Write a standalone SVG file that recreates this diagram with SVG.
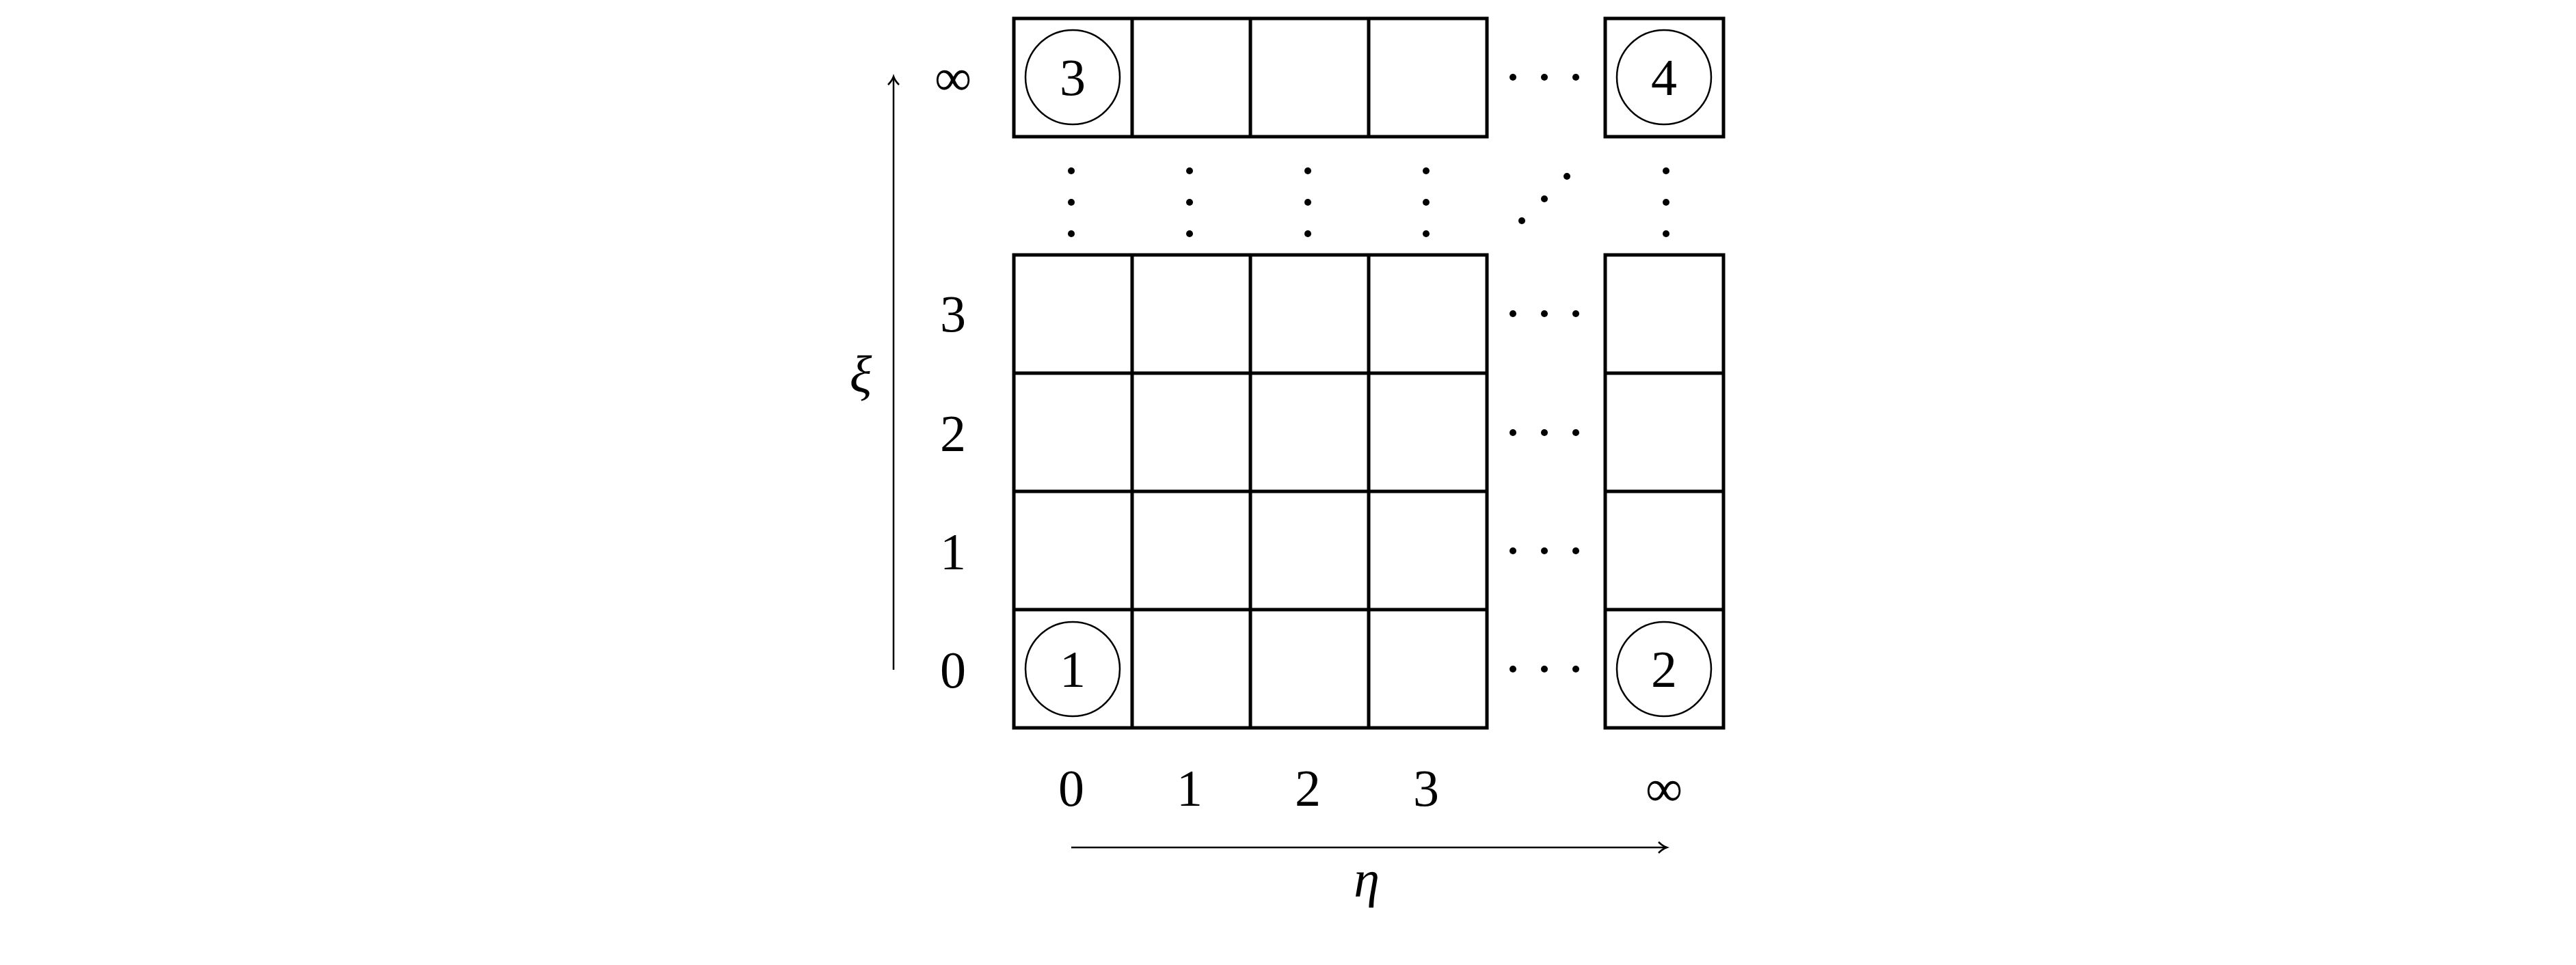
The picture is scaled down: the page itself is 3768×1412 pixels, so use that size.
<svg xmlns="http://www.w3.org/2000/svg" width="3768" height="1412" viewBox="0 0 3768 1412">
<style>
.g{fill:none;stroke:#000;stroke-width:5}
.c{fill:none;stroke:#000;stroke-width:2.5}
.t{font-family:"Liberation Serif",serif;font-size:76px;text-anchor:middle;dominant-baseline:central}
.i{font-style:italic}
.d{fill:#000}
</style>
<defs>
<marker id="ah" markerWidth="20" markerHeight="20" refX="14" refY="10" orient="auto" markerUnits="userSpaceOnUse">
<path d="M2,2 Q8,8 14,10 Q8,12 2,18" fill="none" stroke="#000" stroke-width="2.5"/>
</marker>
</defs>
<rect width="3768" height="1412" fill="#fff"/>
<g id="grid-top">
<rect class="g" x="1483" y="27" width="692" height="173"/>
<path class="g" d="M1656,27V200M1829,27V200M2002,27V200"/>
<rect class="g" x="2348" y="27" width="173" height="173"/>
</g>
<g id="grid-main">
<rect class="g" x="1483" y="373" width="692" height="692"/>
<path class="g" d="M1656,373V1065M1829,373V1065M2002,373V1065M1483,546H2175M1483,719H2175M1483,892H2175"/>
<rect class="g" x="2348" y="373" width="173" height="692"/>
<path class="g" d="M2348,546H2521M2348,719H2521M2348,892H2521"/>
</g>
<g id="n3"><circle class="c" cx="1569" cy="113" r="69"/><text class="t" x="1569" y="113">3</text></g>
<g id="n4"><circle class="c" cx="2434" cy="113" r="69"/><text class="t" x="2434" y="113">4</text></g>
<g id="n1"><circle class="c" cx="1569" cy="979" r="69"/><text class="t" x="1569" y="979">1</text></g>
<g id="n2"><circle class="c" cx="2434" cy="979" r="69"/><text class="t" x="2434" y="979">2</text></g>
<g id="dots" class="d">
<circle cx="2213" cy="113" r="5"/><circle cx="2259" cy="113" r="5"/><circle cx="2305" cy="113" r="5"/>
<circle cx="2213" cy="459" r="5"/><circle cx="2259" cy="459" r="5"/><circle cx="2305" cy="459" r="5"/>
<circle cx="2213" cy="633" r="5"/><circle cx="2259" cy="633" r="5"/><circle cx="2305" cy="633" r="5"/>
<circle cx="2213" cy="806" r="5"/><circle cx="2259" cy="806" r="5"/><circle cx="2305" cy="806" r="5"/>
<circle cx="2213" cy="979" r="5"/><circle cx="2259" cy="979" r="5"/><circle cx="2305" cy="979" r="5"/>
<circle cx="1567" cy="250" r="5"/><circle cx="1567" cy="296" r="5"/><circle cx="1567" cy="342" r="5"/>
<circle cx="1740" cy="250" r="5"/><circle cx="1740" cy="296" r="5"/><circle cx="1740" cy="342" r="5"/>
<circle cx="1913" cy="250" r="5"/><circle cx="1913" cy="296" r="5"/><circle cx="1913" cy="342" r="5"/>
<circle cx="2086" cy="250" r="5"/><circle cx="2086" cy="296" r="5"/><circle cx="2086" cy="342" r="5"/>
<circle cx="2437" cy="250" r="5"/><circle cx="2437" cy="296" r="5"/><circle cx="2437" cy="342" r="5"/>
<circle cx="2226" cy="323" r="5"/><circle cx="2259" cy="291" r="5"/><circle cx="2292" cy="258" r="5"/>
</g>
<g id="labels" class="t">
<text x="1394" y="113">∞</text>
<text x="1394" y="459">3</text>
<text x="1394" y="634">2</text>
<text x="1394" y="807">1</text>
<text x="1394" y="980">0</text>
<text x="1567" y="1153">0</text>
<text x="1740" y="1153">1</text>
<text x="1913" y="1153">2</text>
<text x="2086" y="1153">3</text>
<text x="2434" y="1153">∞</text>
<text class="i" x="1259" y="548">ξ</text>
<text class="i" x="1999" y="1286">η</text>
</g>
<g id="connectors">
<line x1="1307" y1="980" x2="1307" y2="112" stroke="#000" stroke-width="2.5" marker-end="url(#ah)"/>
<line x1="1567" y1="1240" x2="2438" y2="1240" stroke="#000" stroke-width="2.5" marker-end="url(#ah)"/>
</g>
</svg>
